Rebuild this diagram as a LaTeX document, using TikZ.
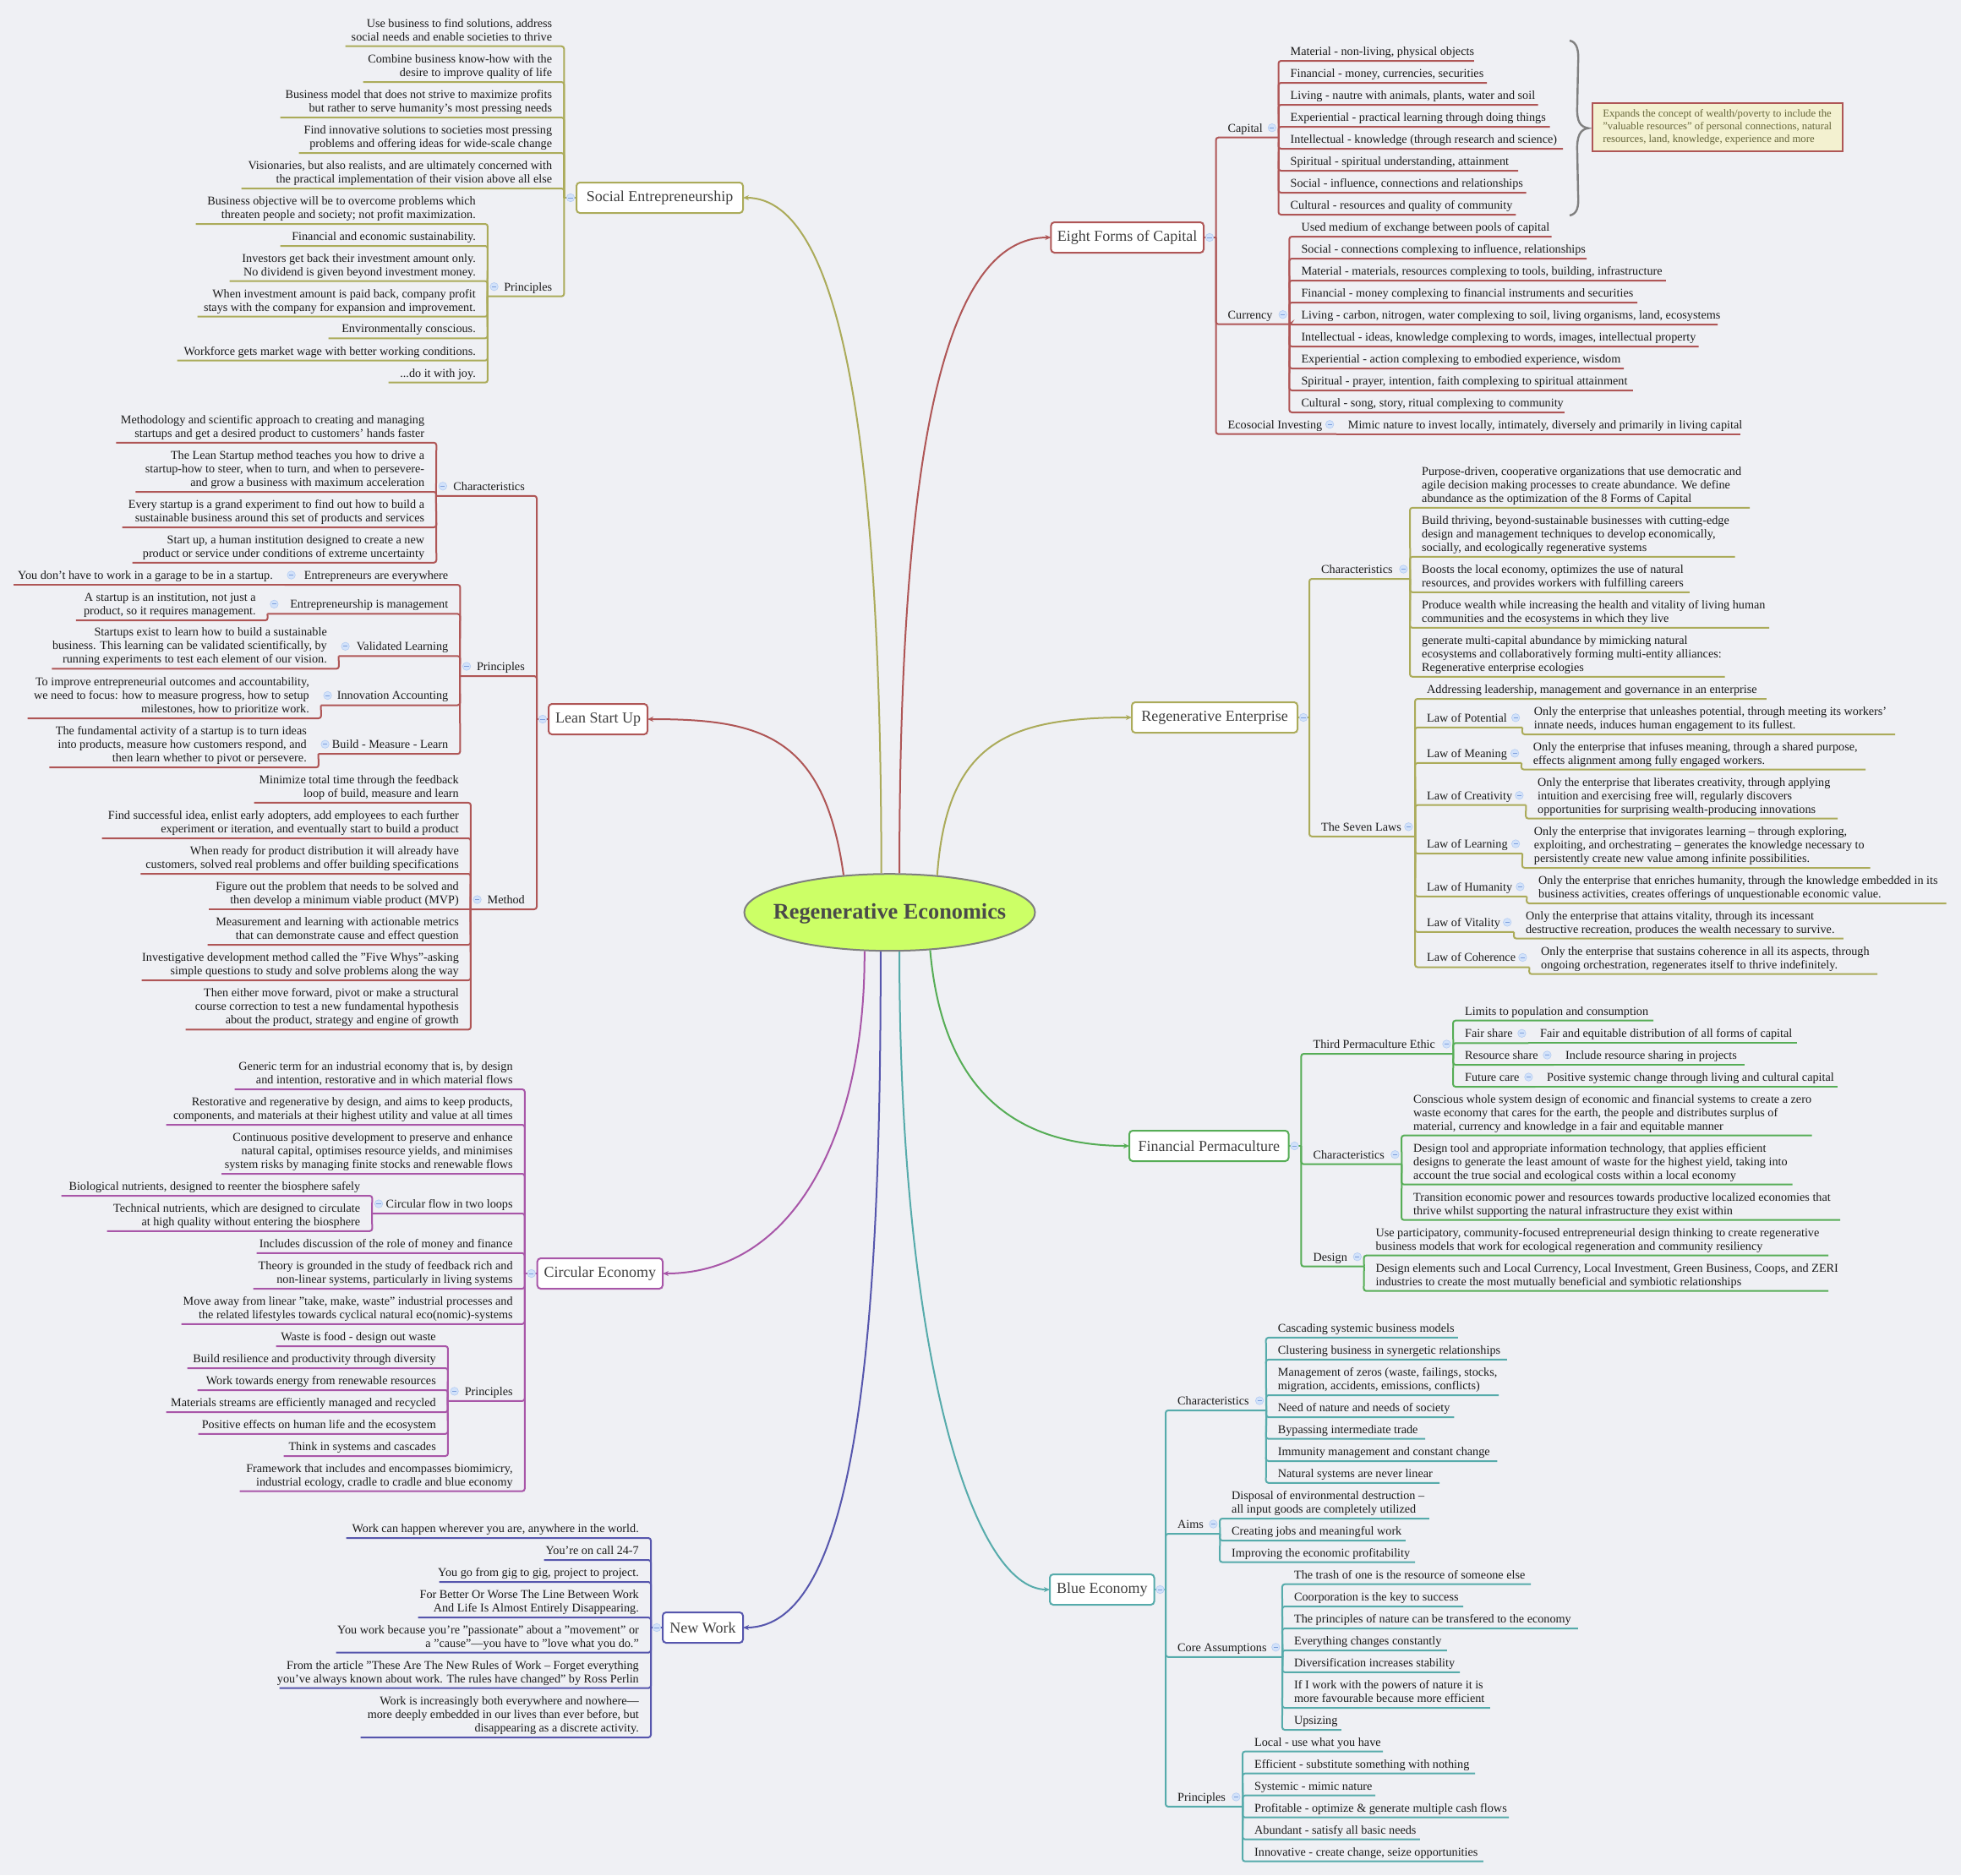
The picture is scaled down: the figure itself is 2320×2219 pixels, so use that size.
\documentclass[tikz,border=0pt]{standalone}
\usepackage{fontspec}
\setmainfont{Liberation Serif}
\usetikzlibrary{arrows.meta,shapes.geometric}
\definecolor{bgc}{HTML}{EFF0F4}
\definecolor{brRed}{HTML}{AF5656}
\definecolor{brOlive}{HTML}{ABAB5A}
\definecolor{brPurple}{HTML}{A856A8}
\definecolor{brBlue}{HTML}{5656AD}
\definecolor{brTeal}{HTML}{56ABAB}
\definecolor{brGreen}{HTML}{56AD56}
\definecolor{leafc}{HTML}{1A1A1A}
\definecolor{mainc}{HTML}{404040}
\definecolor{ctrText}{HTML}{4A4A4A}
\definecolor{icoFill}{HTML}{D2E2FA}
\definecolor{icoLine}{HTML}{B4CCF2}
\definecolor{icoDash}{HTML}{7E9FDC}
\definecolor{ctrLine}{HTML}{7F7F7F}
\definecolor{ctrFill}{HTML}{CCFF66}
\definecolor{noteFill}{HTML}{F3F1D0}
\definecolor{noteText}{HTML}{66663A}
\definecolor{braceC}{HTML}{808080}
\newcommand{\leaffont}{\fontsize{14.2}{16}\selectfont}
\tikzset{
 tn/.style={inner xsep=0pt,inner ysep=1.6pt,font=\leaffont,text=leafc},
 ln/.style={draw=br,line width=2pt,rounded corners=3pt},
 mainbox/.style={draw=br,line width=2pt,fill=white,rounded corners=4pt,inner sep=0pt,outer sep=0pt,text=mainc,font=\fontsize{18}{20}\selectfont},
 curve/.style={draw=br,line width=2pt,-{Stealth[length=7pt,width=6pt]}},
 ico/.style={circle,draw=icoLine,fill=icoFill,line width=.6pt,minimum size=9.5pt,inner sep=0pt,
   path picture={\draw[icoDash,line width=.9pt] ([xshift=2.2pt]path picture bounding box.west) -- ([xshift=-2.2pt]path picture bounding box.east);}},
}
\newcommand{\setT}[2]{\def\trkp{#1}\def\trkx{#2}}
\newcommand{\LeafR}[4]{%
 \node[tn,anchor=south west] (#1) at (\trkx,#3) {\hbox to \dimexpr #2pt-\trkx pt\relax{\hspace{14pt}\begin{tabular}[b]{@{}l@{}}#4\end{tabular}\hss}};
 \draw[ln] (\trkp) -- (#1.south west) -- (#1.south east);}
\newcommand{\LeafL}[4]{%
 \node[tn,anchor=south east] (#1) at (\trkx,#3) {\hbox to \dimexpr \trkx pt-#2pt\relax{\hss\begin{tabular}[b]{@{}r@{}}#4\end{tabular}\hspace{14pt}}};
 \draw[ln] (\trkp) -- (#1.south east) -- (#1.south west);}
\newcommand{\icoR}[1]{\node[ico] (i#1) at ([xshift=-8pt,yshift=11.5pt]#1.south east) {};}
\newcommand{\icoL}[1]{\node[ico] (i#1) at ([xshift=8pt,yshift=11.5pt]#1.south west) {};}
\newcommand{\mainB}[6]{\node[mainbox,minimum width=\dimexpr #3pt-#2pt\relax,minimum height=\dimexpr #5pt-#4pt\relax,anchor=south west] (#1) at (#2,#5) {#6};}
\begin{document}
\begin{tikzpicture}[x=1pt,y=-1pt]
\useasboundingbox (0,0) rectangle (2320,2219);
\fill[bgc] (0,0) rectangle (2320,2219);

\node[ellipse,minimum width=344pt,minimum height=91pt,inner sep=0pt,draw=ctrLine,line width=2pt,fill=ctrFill,text=ctrText,font=\fontsize{26.3}{30}\selectfont\bfseries] (ctr) at (1052.5,1079.7) {\raisebox{-8pt}[0pt][0pt]{\makebox[0pt]{Regenerative Economics}}};

%%%%% Social Entrepreneurship
\colorlet{br}{brOlive}
\mainB{soc}{682}{879}{216}{252}{Social Entrepreneurship}
\coordinate (socS) at (667.3,234);
\draw[curve] (ctr.102.3) .. controls (1042.6,550) and (1000,234) .. (soc.east);
\draw[ln] (soc.west) -- (socS);
\setT{socS}{667.3}
\LeafL{soc1}{409}{54.7}{Use business to find solutions, address\\social needs and enable societies to thrive}
\LeafL{soc2}{430}{97}{Combine business know-how with the\\desire to improve quality of life}
\LeafL{soc3}{332}{139}{Business model that does not strive to maximize profits\\but rather to serve humanity's most pressing needs}
\LeafL{soc4}{354}{181}{Find innovative solutions to societies most pressing\\problems and offering ideas for wide-scale change}
\LeafL{soc5}{286}{223}{Visionaries, but also realists, and are ultimately concerned with\\the practical implementation of their vision above all else}
\LeafL{socP}{577}{350.7}{Principles}
\setT{socP.south west}{577}
\LeafL{socPa}{232}{265}{Business objective will be to overcome problems which\\threaten people and society; not profit maximization.}
\LeafL{socPb}{332}{291}{Financial and economic sustainability.}
\LeafL{socPc}{272}{332.7}{Investors get back their investment amount only.\\No dividend is given beyond investment money.}
\LeafL{socPd}{234}{374.7}{When investment amount is paid back, company profit\\stays with the company for expansion and improvement.}
\LeafL{socPe}{389}{400.3}{Environmentally conscious.}
\LeafL{socPf}{210}{426.7}{Workforce gets market wage with better working conditions.}
\LeafL{socPg}{460}{452.7}{...do it with joy.}
\icoL{socP}
\node[ico] (isoc) at ([xshift=-7pt]soc.west) {};

%%%%% Lean Start Up
\colorlet{br}{brRed}
\mainB{lean}{649}{766}{833}{869}{Lean Start Up}
\coordinate (leanS) at (635,851);
\draw[curve] (ctr.141.9) .. controls (975,870) and (900,851) .. (lean.east);
\draw[ln] (lean.west) -- (leanS);
\setT{leanS}{635}
\LeafL{leanC}{516.3}{586.8}{Characteristics}
\LeafL{leanP}{544.4}{800}{Principles}
\LeafL{leanM}{557}{1076}{Method}
\setT{leanC.south west}{516.3}
\LeafL{leanC1}{137.8}{523.8}{Methodology and scientific approach to creating and managing\\startups and get a desired product to customers' hands faster}
\LeafL{leanC2}{160.7}{582}{The Lean Startup method teaches you how to drive a\\startup-how to steer, when to turn, and when to persevere-\\and grow a business with maximum acceleration}
\LeafL{leanC3}{145}{624}{Every startup is a grand experiment to find out how to build a\\sustainable business around this set of products and services}
\LeafL{leanC4}{157}{665.8}{Start up, a human institution designed to create a new\\product or service under conditions of extreme uncertainty}
\icoL{leanC}
\setT{leanP.south west}{544.4}
\LeafL{leanP1}{337}{692}{Entrepreneurs are everywhere}
\LeafL{leanP2}{316.8}{726.4}{Entrepreneurship is management}
\LeafL{leanP3}{401}{776.3}{Validated Learning}
\LeafL{leanP4}{380}{834.5}{Innovation Accounting}
\LeafL{leanP5}{377}{892.2}{Build - Measure - Learn}
\icoL{leanP}
\setT{leanP1.south west}{337}
\LeafL{leanP1a}{16}{692}{You don't have to work in a garage to be in a startup.}
\icoL{leanP1}
\setT{leanP2.south west}{316.8}
\LeafL{leanP2a}{90.3}{734.2}{A startup is an institution, not just a\\product, so it requires management.}
\icoL{leanP2}
\setT{leanP3.south west}{401}
\LeafL{leanP3a}{61.7}{791.4}{Startups exist to learn how to build a sustainable\\business. This learning can be validated scientifically, by\\running experiments to test each element of our vision.}
\icoL{leanP3}
\setT{leanP4.south west}{380}
\LeafL{leanP4a}{33}{850}{To improve entrepreneurial outcomes and accountability,\\we need to focus: how to measure progress, how to setup\\milestones, how to prioritize work.}
\icoL{leanP4}
\setT{leanP5.south west}{377}
\LeafL{leanP5a}{58.7}{908.2}{The fundamental activity of a startup is to turn ideas\\into products, measure how customers respond, and\\then learn whether to pivot or persevere.}
\icoL{leanP5}
\setT{leanM.south west}{557}
\LeafL{leanM1}{301}{949.9}{Minimize total time through the feedback\\loop of build, measure and learn}
\LeafL{leanM2}{121}{992}{Find successful idea, enlist early adopters, add employees to each further\\experiment or iteration, and eventually start to build a product}
\LeafL{leanM3}{166.8}{1034}{When ready for product distribution it will already have\\customers, solved real problems and offer building specifications}
\LeafL{leanM4}{247.4}{1076}{Figure out the problem that needs to be solved and\\then develop a minimum viable product (MVP)}
\LeafL{leanM5}{246}{1118}{Measurement and learning with actionable metrics\\that can demonstrate cause and effect question}
\LeafL{leanM6}{168}{1160}{Investigative development method called the "Five Whys"-asking\\simple questions to study and solve problems along the way}
\LeafL{leanM7}{220}{1218.4}{Then either move forward, pivot or make a structural\\course correction to test a new fundamental hypothesis\\about the product, strategy and engine of growth}
\icoL{leanM}
\node[ico] (ilean) at ([xshift=-7pt]lean.west) {};

%%%%% Circular Economy
\colorlet{br}{brPurple}
\mainB{cir}{635.7}{784}{1489}{1525}{Circular Economy}
\coordinate (cirS) at (620.8,1507);
\draw[curve] (ctr.237.9) .. controls (1024,1340) and (940,1507) .. (cir.east);
\draw[ln] (cir.west) -- (cirS);
\setT{cirS}{620.8}
\LeafL{cir1}{278}{1289}{Generic term for an industrial economy that is, by design\\and intention, restorative and in which material flows}
\LeafL{cir2}{197}{1331}{Restorative and regenerative by design, and aims to keep products,\\components, and materials at their highest utility and value at all times}
\LeafL{cir3}{262.4}{1389}{Continuous positive development to preserve and enhance\\natural capital, optimises resource yields, and minimises\\system risks by managing finite stocks and renewable flows}
\LeafL{cirF}{440.4}{1436}{Circular flow in two loops}
\LeafL{cir4}{304}{1482.9}{Includes discussion of the role of money and finance}
\LeafL{cir5}{300}{1525}{Theory is grounded in the study of feedback rich and\\non-linear systems, particularly in living systems}
\LeafL{cir6}{215}{1566.8}{Move away from linear "take, make, waste" industrial processes and\\the related lifestyles towards cyclical natural eco(nomic)-systems}
\LeafL{cirP}{530}{1657.9}{Principles}
\LeafL{cir7}{284}{1764.6}{Framework that includes and encompasses biomimicry,\\industrial ecology, cradle to cradle and blue economy}
\setT{cirF.south west}{440.4}
\LeafL{cirFa}{73}{1415}{Biological nutrients, designed to reenter the biosphere safely}
\LeafL{cirFb}{127}{1456.8}{Technical nutrients, which are designed to circulate\\at high quality without entering the biosphere}
\icoL{cirF}
\setT{cirP.south west}{530}
\LeafL{cirPa}{327}{1593}{Waste is food - design out waste}
\LeafL{cirPb}{222}{1619}{Build resilience and productivity through diversity}
\LeafL{cirPc}{234}{1645}{Work towards energy from renewable resources}
\LeafL{cirPd}{197}{1671}{Materials streams are efficiently managed and recycled}
\LeafL{cirPe}{235}{1696.8}{Positive effects on human life and the ecosystem}
\LeafL{cirPf}{336}{1723}{Think in systems and cascades}
\icoL{cirP}
\node[ico] (icir) at ([xshift=-7pt]cir.west) {};

%%%%% New Work
\colorlet{br}{brBlue}
\mainB{nw}{784}{879}{1908}{1944}{New Work}
\coordinate (nwS) at (770,1926);
\draw[curve] (ctr.257.7) .. controls (1042.6,1600) and (1010,1926) .. (nw.east);
\draw[ln] (nw.west) -- (nwS);
\setT{nwS}{770}
\LeafL{nw1}{410}{1820}{Work can happen wherever you are, anywhere in the world.}
\LeafL{nw2}{644}{1846}{You're on call 24-7}
\LeafL{nw3}{520}{1872}{You go from gig to gig, project to project.}
\LeafL{nw4}{495}{1914}{For Better Or Worse The Line Between Work\\And Life Is Almost Entirely Disappearing.}
\LeafL{nw5}{398}{1955.7}{You work because you're "passionate" about a "movement" or\\a "cause"—you have to "love what you do."}
\LeafL{nw6}{331}{1997.7}{From the article "These Are The New Rules of Work – Forget everything\\you've always known about work. The rules have changed" by Ross Perlin}
\LeafL{nw7}{427}{2056}{Work is increasingly both everywhere and nowhere—\\more deeply embedded in our lives than ever before, but\\disappearing as a discrete activity.}
\node[ico] (inw) at ([xshift=-7pt]nw.west) {};

%%%%% Eight Forms of Capital
\colorlet{br}{brRed}
\mainB{ei}{1243.4}{1424}{263}{299}{Eight Forms of Capital}
\coordinate (eiS) at (1438.5,281);
\draw[curve] (ctr.76) .. controls (1064,520) and (1120,281) .. (ei.west);
\draw[ln] (ei.east) -- (eiS);
\setT{eiS}{1438.5}
\LeafR{cap}{1512.5}{162.7}{Capital}
\LeafR{cur}{1525.3}{383.7}{Currency}
\LeafR{eco}{1580.7}{513.7}{Ecosocial Investing}
\setT{cap.south east}{1512.5}
\LeafR{cap1}{1743.4}{72}{Material - non-living, physical objects}
\LeafR{cap2}{1758.7}{98}{Financial - money, currencies, securities}
\LeafR{cap3}{1819.3}{124}{Living - nautre with animals, plants, water and soil}
\LeafR{cap4}{1833.3}{150}{Experiential - practical learning through doing things}
\LeafR{cap5}{1848.6}{176}{Intellectual - knowledge (through research and science)}
\LeafR{cap6}{1795.7}{202}{Spiritual - spiritual understanding, attainment}
\LeafR{cap7}{1805.2}{228}{Social - influence, connections and relationships}
\LeafR{cap8}{1793}{254}{Cultural - resources and quality of community}
\icoR{cap}
\setT{cur.south east}{1525.3}
\LeafR{cur1}{1835.2}{280}{Used medium of exchange between pools of capital}
\LeafR{cur2}{1876.7}{306}{Social - connections complexing to influence, relationships}
\LeafR{cur3}{1970.4}{332}{Material - materials, resources complexing to tools, building, infrastructure}
\LeafR{cur4}{1936.6}{358}{Financial - money complexing to financial instruments and securities}
\LeafR{cur5}{2031.6}{384}{Living - carbon, nitrogen, water complexing to soil, living organisms, land, ecosystems}
\LeafR{cur6}{2009.3}{410}{Intellectual - ideas, knowledge complexing to words, images, intellectual property}
\LeafR{cur7}{1920.7}{436}{Experiential - action complexing to embodied experience, wisdom}
\LeafR{cur8}{1931.5}{462}{Spiritual - prayer, intention, faith complexing to spiritual attainment}
\LeafR{cur9}{1850.5}{488}{Cultural - song, story, ritual complexing to community}
\icoR{cur}
\setT{eco.south east}{1580.7}
\LeafR{eco1}{2058.4}{513.7}{Mimic nature to invest locally, intimately, diversely and primarily in living capital}
\icoR{eco}
\node[ico] (iei) at ([xshift=7pt]ei.east) {};
\node[draw=brRed,line width=2pt,fill=noteFill,minimum width=296pt,minimum height=57.6pt,inner xsep=6pt,inner ysep=0pt,outer sep=0pt,anchor=north west,text=noteText,font=\fontsize{12.7}{15}\selectfont,align=left] (note) at (1883.7,121.7) {Expands the concept of wealth/poverty to include the\\"valuable resources" of personal connections, natural\\resources, land, knowledge, experience and more};
\coordinate (brT) at (1857,48);
\coordinate (brB) at (1857,255);
\coordinate (brM) at (1879,151.7);
\draw[braceC,line width=2.4pt] (brT) .. controls (1866,50) and (1868,60) .. (1867,75) -- (1866,125) .. controls (1865,145) and (1870,150) .. (brM) .. controls (1870,153) and (1865,160) .. (1866,180) -- (1867,230) .. controls (1868,245) and (1866,253) .. (brB);

%%%%% Regenerative Enterprise
\colorlet{br}{brOlive}
\mainB{reg}{1339}{1535}{831}{867}{Regenerative Enterprise}
\coordinate (regS) at (1549,849);
\draw[curve] (ctr.38.1) .. controls (1120,880) and (1190,849) .. (reg.west);
\draw[ln] (reg.east) -- (regS);
\setT{regS}{1549}
\LeafR{regC}{1668}{685}{Characteristics}
\LeafR{regL}{1674}{989.8}{The Seven Laws}
\setT{regC.south east}{1668}
\LeafR{regC1}{2069.6}{600.8}{Purpose-driven, cooperative organizations that use democratic and\\agile decision making processes to create abundance. We define\\abundance as the optimization of the 8 Forms of Capital}
\LeafR{regC2}{2052.3}{658.8}{Build thriving, beyond-sustainable businesses with cutting-edge\\design and management techniques to develop economically,\\socially, and ecologically regenerative systems}
\LeafR{regC3}{1998.4}{700.8}{Boosts the local economy, optimizes the use of natural\\resources, and provides workers with fulfilling careers}
\LeafR{regC4}{2092.6}{742.9}{Produce wealth while increasing the health and vitality of living human\\communities and the ecosystems in which they live}
\LeafR{regC5}{2040.3}{800.8}{generate multi-capital abundance by mimicking natural\\ecosystems and collaboratively forming multi-entity alliances:\\Regenerative enterprise ecologies}
\icoR{regC}
\setT{regL.south east}{1674}
\LeafR{regL0}{2089.4}{827}{Addressing leadership, management and governance in an enterprise}
\LeafR{regL1}{1800.7}{860.8}{Law of Potential}
\LeafR{regL2}{1799.7}{902.9}{Law of Meaning}
\LeafR{regL3}{1805}{952.7}{Law of Creativity}
\LeafR{regL4}{1800.7}{1010}{Law of Learning}
\LeafR{regL5}{1806}{1060.8}{Law of Humanity}
\LeafR{regL6}{1790.8}{1102.9}{Law of Vitality}
\LeafR{regL7}{1809}{1144.5}{Law of Coherence}
\icoR{regL}
\setT{regL1.south east}{1800.7}
\LeafR{regL1a}{2241.6}{869}{Only the enterprise that unleashes potential, through meeting its workers'\\innate needs, induces human engagement to its fullest.}
\icoR{regL1}
\setT{regL2.south east}{1799.7}
\LeafR{regL2a}{2206.6}{910.6}{Only the enterprise that infuses meaning, through a shared purpose,\\effects alignment among fully engaged workers.}
\icoR{regL2}
\setT{regL3.south east}{1805}
\LeafR{regL3a}{2173.6}{968.6}{Only the enterprise that liberates creativity, through applying\\intuition and exercising free will, regularly discovers\\opportunities for surprising wealth-producing innovations}
\icoR{regL3}
\setT{regL4.south east}{1800.7}
\LeafR{regL4a}{2212.3}{1027}{Only the enterprise that invigorates learning – through exploring,\\exploiting, and orchestrating – generates the knowledge necessary to\\persistently create new value among infinite possibilities.}
\icoR{regL4}
\setT{regL5.south east}{1806}
\LeafR{regL5a}{2302.3}{1069}{Only the enterprise that enriches humanity, through the knowledge embedded in its\\business activities, creates offerings of unquestionable economic value.}
\icoR{regL5}
\setT{regL6.south east}{1790.8}
\LeafR{regL6a}{2180.4}{1110.6}{Only the enterprise that attains vitality, through its incessant\\destructive recreation, produces the wealth necessary to survive.}
\icoR{regL6}
\setT{regL7.south east}{1809}
\LeafR{regL7a}{2220.7}{1152.7}{Only the enterprise that sustains coherence in all its aspects, through\\ongoing orchestration, regenerates itself to thrive indefinitely.}
\icoR{regL7}
\node[ico] (ireg) at ([xshift=7pt]reg.east) {};

%%%%% Financial Permaculture
\colorlet{br}{brGreen}
\mainB{fin}{1336}{1524.5}{1338}{1374}{Financial Permaculture}
\coordinate (finS) at (1539.4,1356);
\draw[curve] (ctr.317) .. controls (1115,1290) and (1200,1356) .. (fin.west);
\draw[ln] (fin.east) -- (finS);
\setT{finS}{1539.4}
\LeafR{finT}{1719}{1247}{Third Permaculture Ethic}
\LeafR{finC}{1658}{1377.7}{Characteristics}
\LeafR{finD}{1613.4}{1498.7}{Design}
\setT{finT.south east}{1719}
\LeafR{finT1}{1955.6}{1207.7}{Limits to population and consumption}
\LeafR{finT2}{1808}{1234.3}{Fair share}
\LeafR{finT3}{1838}{1260}{Resource share}
\LeafR{finT4}{1816}{1286}{Future care}
\icoR{finT}
\setT{finT2.south east}{1808}
\LeafR{finT2a}{2125.5}{1234.3}{Fair and equitable distribution of all forms of capital}
\icoR{finT2}
\setT{finT3.south east}{1838}
\LeafR{finT3a}{2063.5}{1260}{Include resource sharing in projects}
\icoR{finT3}
\setT{finT4.south east}{1816}
\LeafR{finT4a}{2173.7}{1286}{Positive systemic change through living and cultural capital}
\icoR{finT4}
\setT{finC.south east}{1658}
\LeafR{finC1}{2143.3}{1343.7}{Conscious whole system design of economic and financial systems to create a zero\\waste economy that cares for the earth, the people and distributes surplus of\\material, currency and knowledge in a fair and equitable manner}
\LeafR{finC2}{2120.3}{1401.7}{Design tool and appropriate information technology, that applies efficient\\designs to generate the least amount of waste for the highest yield, taking into\\account the true social and ecological costs within a local economy}
\LeafR{finC3}{2176.6}{1443.7}{Transition economic power and resources towards productive localized economies that\\thrive whilst supporting the natural infrastructure they exist within}
\icoR{finC}
\setT{finD.south east}{1613.4}
\LeafR{finD1}{2162.8}{1485.7}{Use participatory, community-focused entrepreneurial design thinking to create regenerative\\business models that work for ecological regeneration and community resiliency}
\LeafR{finD2}{2162.8}{1527.7}{Design elements such and Local Currency, Local Investment, Green Business, Coops, and ZERI\\industries to create the most mutually beneficial and symbiotic relationships}
\icoR{finD}
\node[ico] (ifin) at ([xshift=7pt]fin.east) {};

%%%%% Blue Economy
\colorlet{br}{brTeal}
\mainB{blu}{1242}{1365.5}{1863}{1899}{Blue Economy}
\coordinate (bluS) at (1379,1881);
\draw[curve] (ctr.284) .. controls (1064,1600) and (1150,1881) .. (blu.west);
\draw[ln] (blu.east) -- (bluS);
\setT{bluS}{1379}
\LeafR{bluC}{1497.7}{1669}{Characteristics}
\LeafR{bluA}{1443}{1815}{Aims}
\LeafR{bluK}{1516.9}{1960.8}{Core Assumptions}
\LeafR{bluP}{1470}{2137.9}{Principles}
\setT{bluC.south east}{1497.7}
\LeafR{bluC1}{1724.5}{1582.9}{Cascading systemic business models}
\LeafR{bluC2}{1782.5}{1608.9}{Clustering business in synergetic relationships}
\LeafR{bluC3}{1772.7}{1651}{Management of zeros (waste, failings, stocks,\\migration, accidents, emissions, conflicts)}
\LeafR{bluC4}{1720}{1677}{Need of nature and needs of society}
\LeafR{bluC5}{1685.6}{1702.7}{Bypassing intermediate trade}
\LeafR{bluC6}{1771}{1729}{Immunity management and constant change}
\LeafR{bluC7}{1702.6}{1754.8}{Natural systems are never linear}
\icoR{bluC}
\setT{bluA.south east}{1443}
\LeafR{bluA1}{1690.5}{1797}{Disposal of environmental destruction –\\all input goods are completely utilized}
\LeafR{bluA2}{1662.4}{1823}{Creating jobs and meaningful work}
\LeafR{bluA3}{1673.6}{1848.6}{Improving the economic profitability}
\icoR{bluA}
\setT{bluK.south east}{1516.9}
\LeafR{bluK1}{1810.6}{1874.7}{The trash of one is the resource of someone else}
\LeafR{bluK2}{1730.7}{1901}{Coorporation is the key to success}
\LeafR{bluK3}{1866.4}{1927}{The principles of nature can be transfered to the economy}
\LeafR{bluK4}{1711.5}{1953}{Everything changes constantly}
\LeafR{bluK5}{1726.7}{1978.8}{Diversification increases stability}
\LeafR{bluK6}{1762.4}{2021}{If I work with the powers of nature it is\\more favourable because more efficient}
\LeafR{bluK7}{1586.5}{2047}{Upsizing}
\icoR{bluK}
\setT{bluP.south east}{1470}
\LeafR{bluP1}{1635.6}{2072.6}{Local - use what you have}
\LeafR{bluP2}{1744.6}{2098.6}{Efficient - substitute something with nothing}
\LeafR{bluP3}{1626.7}{2124.7}{Systemic - mimic nature}
\LeafR{bluP4}{1784.7}{2150.7}{Profitable - optimize \& generate multiple cash flows}
\LeafR{bluP5}{1679.4}{2176.7}{Abundant - satisfy all basic needs}
\LeafR{bluP6}{1754.4}{2202.7}{Innovative - create change, seize opportunities}
\icoR{bluP}
\node[ico] (iblu) at ([xshift=7pt]blu.east) {};
\end{tikzpicture}
\end{document}
